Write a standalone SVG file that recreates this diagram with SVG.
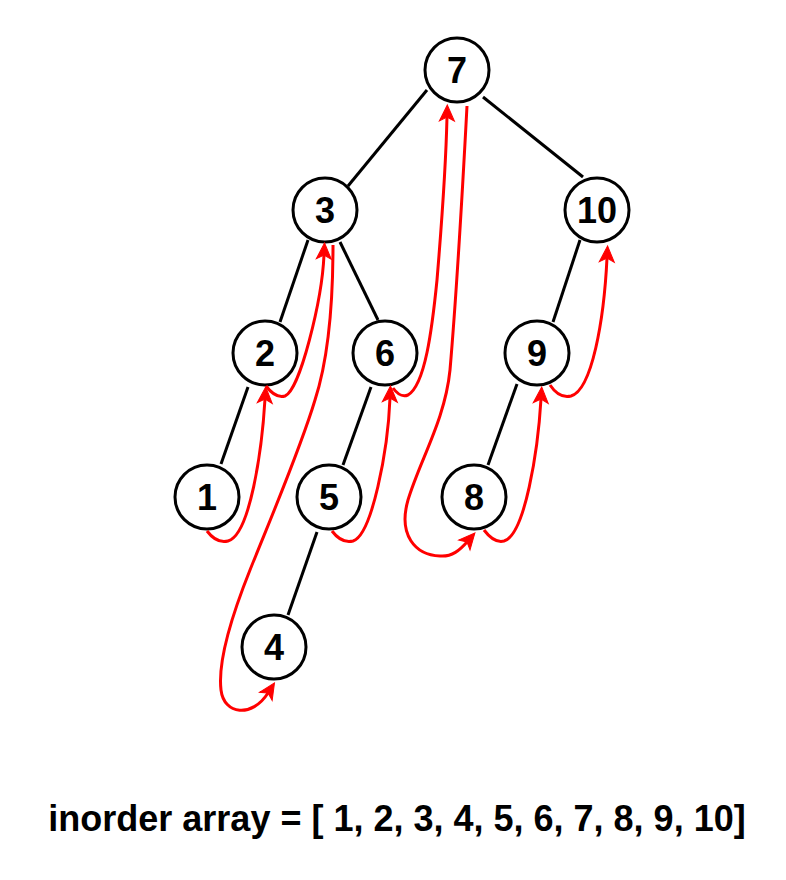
<svg xmlns="http://www.w3.org/2000/svg" width="786" height="880" viewBox="0 0 786 880">
<style>
.edge{stroke:#000;stroke-width:3;fill:none}
.walk{stroke:#FF0000;stroke-width:3;fill:none;marker-end:url(#arr)}
.node circle{fill:#fff;stroke:#000;stroke-width:3}
.node text,.caption{font-family:"Liberation Sans",Arial,Helvetica,sans-serif;font-weight:bold;font-size:36px;text-anchor:middle;fill:#000}
</style>
<defs>
<marker id="arr" markerUnits="userSpaceOnUse" markerWidth="20" markerHeight="20" viewBox="-6 -10 20 20" refX="0" refY="0" orient="auto">
<path d="M12,0 L-4,-7.5 L0,0 L-4,7.5 Z" fill="#FF0000" stroke="#FF0000" stroke-width="1"/>
</marker>
</defs>
<rect width="786" height="880" fill="#fff"/>
<g id="tree-edges">
<line class="edge" x1="427" y1="90" x2="348" y2="186"/>
<line class="edge" x1="483" y1="97" x2="583" y2="177"/>
<line class="edge" x1="308" y1="240" x2="280" y2="322"/>
<line class="edge" x1="340" y1="242" x2="378" y2="320"/>
<line class="edge" x1="248" y1="387" x2="221" y2="464"/>
<line class="edge" x1="371" y1="387" x2="343" y2="465"/>
<line class="edge" x1="317" y1="532" x2="288" y2="615"/>
<line class="edge" x1="580" y1="240" x2="553" y2="322"/>
<line class="edge" x1="517" y1="384" x2="488" y2="465"/>
</g>
<g id="node-7" class="node"><circle cx="457" cy="70" r="32"/><text x="457" y="83">7</text></g>
<g id="node-3" class="node"><circle cx="325" cy="210" r="32"/><text x="325" y="223">3</text></g>
<g id="node-10" class="node"><circle cx="597" cy="210" r="32"/><text x="597" y="223">10</text></g>
<g id="node-2" class="node"><circle cx="265" cy="353" r="32"/><text x="265" y="366">2</text></g>
<g id="node-6" class="node"><circle cx="385" cy="353" r="32"/><text x="385" y="366">6</text></g>
<g id="node-9" class="node"><circle cx="537" cy="353" r="32"/><text x="537" y="366">9</text></g>
<g id="node-1" class="node"><circle cx="207" cy="497" r="32"/><text x="207" y="510">1</text></g>
<g id="node-5" class="node"><circle cx="329" cy="497" r="32"/><text x="329" y="510">5</text></g>
<g id="node-8" class="node"><circle cx="474" cy="497" r="32"/><text x="474" y="510">8</text></g>
<g id="node-4" class="node"><circle cx="274" cy="647" r="32"/><text x="274" y="660">4</text></g>
<g id="connectors">
<path class="walk" d="M207,531 C213,539 220,543 228,541 C250,535 262,450 265,399"/>
<path class="walk" d="M266,386 C272,394 278,398 285,396 C300,390 322,300 324,255"/>
<path class="walk" d="M333,245 C333,300 328,360 315,400 C300,450 270,520 250,570 C230,620 218,665 221,690 C224,715 252,718 268,693"/>
<path class="walk" d="M332,531 C338,539 345,543 353,541 C372,535 388,450 390,398"/>
<path class="walk" d="M393,388 C398,395 403,397 408,395 C425,385 432,330 437,280 C442,220 446,160 447,117"/>
<path class="walk" d="M467,106 C462,200 456,300 450,370 C445,420 420,460 408,500 C398,535 415,555 440,556 C452,557 460,550 467,542"/>
<path class="walk" d="M484,530 C490,538 496,543 504,541 C525,535 538,450 541,399"/>
<path class="walk" d="M550,385 C556,394 563,398 571,396 C592,390 604,320 607,258"/>
</g>
<text class="caption" x="397" y="831">inorder array = [ 1, 2, 3, 4, 5, 6, 7, 8, 9, 10]</text>
</svg>
